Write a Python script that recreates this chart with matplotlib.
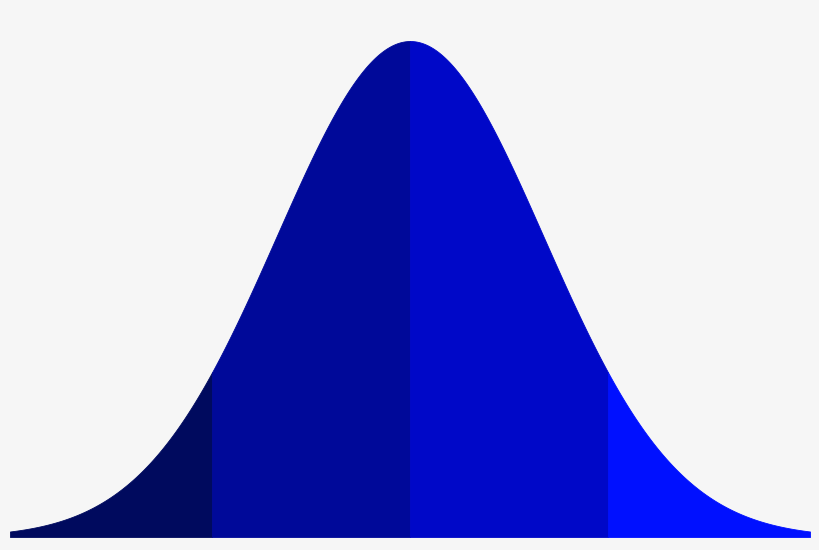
import numpy as np
import matplotlib
matplotlib.use("Agg")
import matplotlib.pyplot as plt

# bell curve split into four shaded bands (z-score edges)
band_edges = [-3.0, -1.485, 0.0, 1.485, 3.0]
band_colors = ["#000a5e", "#000999", "#0008c8", "#0010ff"]
bg = "#f6f6f6"

fig = plt.figure(figsize=(8.2, 5.5), dpi=100, facecolor=bg)
ax = fig.add_axes([0, 0, 1, 1])
ax.set_facecolor(bg)

for i, col in enumerate(band_colors):
    z = np.linspace(band_edges[i], band_edges[i + 1], 200)
    y = np.exp(-z**2 / 2)
    ax.fill_between(z, 0, y, color=col, linewidth=0.6, edgecolor=col)

# margins: curve spans x pixels 10..810, baseline at 537, peak at 41
px = 800 / 6.0
ax.set_xlim(-3 - 10 / px, 3 + 10 / px)
ax.set_ylim(-13 / 496, 1 + 41 / 496)
ax.axis("off")

fig.savefig("out.png", dpi=100, facecolor=bg)
